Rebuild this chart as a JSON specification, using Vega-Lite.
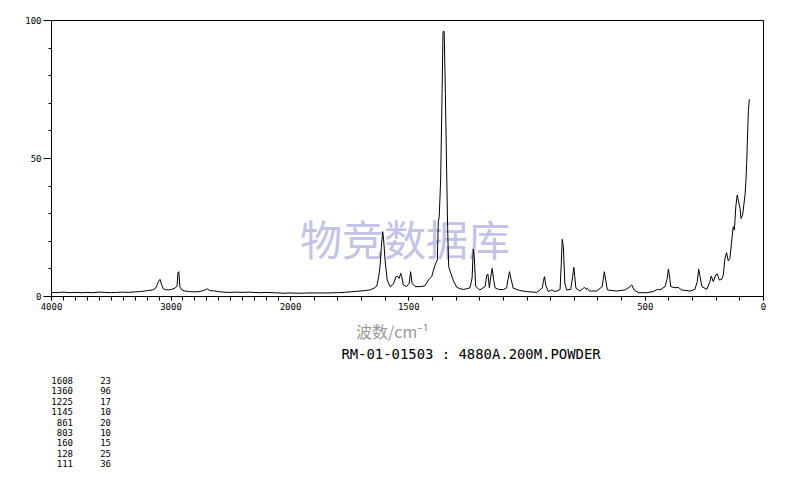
{
  "$schema": "https://vega.github.io/schema/vega-lite/v6.json",
  "padding": {"left": 24, "top": 15, "right": 5, "bottom": 5},
  "background": "white",
  "bounds": "flush",
  "spacing": 85,
  "config": {"view": {"stroke": null}, "font": "DejaVu Sans Mono"},
  "vconcat": [
    {
      "width": 712,
      "height": 276,
      "view": {"stroke": "black", "strokeWidth": 1},
      "title": {
        "text": "RM-01-01503 : 4880A.200M.POWDER",
        "orient": "bottom",
        "anchor": "middle",
        "frame": "group",
        "dx": 64,
        "offset": 8,
        "baseline": "top",
        "font": "DejaVu Sans Mono",
        "fontSize": 13.9,
        "fontWeight": "normal",
        "color": "#000000"
      },
      "resolve": {"axis": {"x": "independent", "y": "independent"}},
      "layer": [
        {
          "data": {"values": [{}]},
          "mark": {"type": "text", "text": "物竞数据库", "font": "Noto Sans CJK SC", "fontSize": 42, "color": "#c3c3ea", "baseline": "middle", "align": "center"},
          "encoding": {
            "x": {"datum": 1514, "type": "quantitative",
              "axis": {"orient": "bottom", "values": [4000,3900,3800,3700,3600,3500,3400,3300,3200,3100,3000,2900,2800,2700,2600,2500,2400,2300,2200,2100,2000,1900,1800,1700,1600,1500,1400,1300,1200,1100,1000,900,800,700,600,500,400,300,200,100,0],
                "labels": false, "domain": false, "grid": false, "tickSize": 4, "tickColor": "#000000", "title": null}},
            "y": {"datum": 19.2, "type": "quantitative",
              "axis": {"orient": "left", "values": [0,10,20,30,40,50,60,70,80,90,100],
                "labels": false, "domain": false, "grid": false, "tickSize": 3, "tickColor": "#000000", "title": null}}
          }
        },
        {
          "data": {"values": [
            {"wn":4000,"i":1.3},{"wn":3950,"i":1.2},{"wn":3900,"i":1.4},{"wn":3850,"i":1.2},{"wn":3800,"i":1.3},{"wn":3750,"i":1.2},{"wn":3700,"i":1.3},{"wn":3650,"i":1.2},{"wn":3600,"i":1.4},{"wn":3550,"i":1.3},{"wn":3500,"i":1.2},{"wn":3450,"i":1.3},{"wn":3400,"i":1.4},{"wn":3350,"i":1.3},{"wn":3300,"i":1.5},{"wn":3250,"i":1.6},{"wn":3200,"i":1.9},{"wn":3150,"i":2.2},{"wn":3125,"i":2.8},{"wn":3110,"i":4.2},{"wn":3100,"i":5.3},{"wn":3088,"i":6.0},{"wn":3076,"i":4.3},{"wn":3060,"i":2.6},{"wn":3040,"i":2.3},{"wn":3018,"i":2.2},{"wn":2990,"i":2.4},{"wn":2960,"i":2.9},{"wn":2945,"i":3.6},{"wn":2938,"i":8.4},{"wn":2930,"i":8.8},{"wn":2922,"i":3.3},{"wn":2905,"i":2.2},{"wn":2880,"i":1.8},{"wn":2840,"i":1.6},{"wn":2800,"i":1.5},{"wn":2760,"i":1.6},{"wn":2730,"i":1.9},{"wn":2711,"i":2.2},{"wn":2690,"i":2.6},{"wn":2670,"i":1.9},{"wn":2640,"i":1.9},{"wn":2600,"i":1.6},{"wn":2560,"i":1.4},{"wn":2500,"i":1.3},{"wn":2450,"i":1.4},{"wn":2400,"i":1.3},{"wn":2350,"i":1.4},{"wn":2300,"i":1.3},{"wn":2250,"i":1.2},{"wn":2200,"i":1.3},{"wn":2150,"i":1.2},{"wn":2100,"i":1.1},{"wn":2050,"i":1.0},{"wn":2000,"i":1.1},{"wn":1960,"i":1.0},{"wn":1920,"i":1.1},{"wn":1880,"i":1.1},{"wn":1840,"i":1.1},{"wn":1800,"i":1.2},{"wn":1770,"i":1.3},{"wn":1746,"i":1.5},{"wn":1720,"i":1.7},{"wn":1700,"i":1.8},{"wn":1680,"i":2.0},{"wn":1662,"i":2.2},{"wn":1645,"i":2.8},{"wn":1633,"i":3.6},{"wn":1625,"i":7.0},{"wn":1619,"i":11.0},{"wn":1614,"i":17.5},{"wn":1608,"i":23.3},{"wn":1604,"i":20.3},{"wn":1598,"i":13.0},{"wn":1589,"i":5.8},{"wn":1577,"i":3.4},{"wn":1563,"i":4.3},{"wn":1552,"i":7.0},{"wn":1545,"i":7.2},{"wn":1538,"i":6.4},{"wn":1532,"i":8.2},{"wn":1528,"i":7.2},{"wn":1521,"i":4.0},{"wn":1507,"i":3.4},{"wn":1496,"i":4.6},{"wn":1490,"i":8.8},{"wn":1484,"i":4.6},{"wn":1471,"i":3.4},{"wn":1450,"i":3.4},{"wn":1429,"i":3.7},{"wn":1415,"i":5.8},{"wn":1401,"i":7.0},{"wn":1387,"i":11.2},{"wn":1377,"i":13.0},{"wn":1373,"i":26.9},{"wn":1369,"i":28.7},{"wn":1363,"i":42.0},{"wn":1357,"i":73.4},{"wn":1353,"i":95.8},{"wn":1348,"i":95.8},{"wn":1343,"i":73.4},{"wn":1337,"i":42.0},{"wn":1333,"i":22.7},{"wn":1329,"i":10.6},{"wn":1320,"i":8.2},{"wn":1309,"i":5.5},{"wn":1295,"i":3.2},{"wn":1281,"i":2.6},{"wn":1267,"i":2.4},{"wn":1253,"i":2.6},{"wn":1239,"i":3.0},{"wn":1230,"i":6.5},{"wn":1225,"i":17.0},{"wn":1221,"i":14.5},{"wn":1215,"i":3.6},{"wn":1204,"i":2.6},{"wn":1197,"i":2.2},{"wn":1183,"i":3.0},{"wn":1175,"i":3.4},{"wn":1168,"i":7.6},{"wn":1163,"i":7.9},{"wn":1157,"i":3.0},{"wn":1151,"i":7.0},{"wn":1145,"i":10.0},{"wn":1139,"i":6.0},{"wn":1133,"i":3.0},{"wn":1119,"i":2.4},{"wn":1098,"i":2.3},{"wn":1084,"i":3.0},{"wn":1078,"i":6.0},{"wn":1072,"i":8.8},{"wn":1065,"i":6.0},{"wn":1056,"i":2.8},{"wn":1028,"i":2.0},{"wn":1000,"i":1.6},{"wn":985,"i":1.5},{"wn":957,"i":1.3},{"wn":943,"i":2.2},{"wn":933,"i":3.0},{"wn":929,"i":5.2},{"wn":924,"i":7.0},{"wn":918,"i":3.8},{"wn":908,"i":1.6},{"wn":893,"i":2.2},{"wn":879,"i":1.6},{"wn":866,"i":2.0},{"wn":858,"i":2.4},{"wn":853,"i":11.8},{"wn":849,"i":20.5},{"wn":844,"i":17.9},{"wn":838,"i":4.6},{"wn":830,"i":2.2},{"wn":813,"i":2.4},{"wn":805,"i":7.0},{"wn":800,"i":10.4},{"wn":796,"i":7.0},{"wn":791,"i":2.8},{"wn":774,"i":1.8},{"wn":760,"i":2.8},{"wn":754,"i":3.1},{"wn":748,"i":2.4},{"wn":743,"i":2.8},{"wn":734,"i":1.8},{"wn":703,"i":1.8},{"wn":680,"i":3.4},{"wn":671,"i":8.8},{"wn":665,"i":5.8},{"wn":658,"i":2.2},{"wn":619,"i":1.8},{"wn":583,"i":2.2},{"wn":567,"i":3.1},{"wn":555,"i":4.0},{"wn":545,"i":2.2},{"wn":527,"i":1.2},{"wn":492,"i":1.2},{"wn":464,"i":1.6},{"wn":447,"i":2.4},{"wn":436,"i":2.2},{"wn":414,"i":3.4},{"wn":405,"i":6.4},{"wn":400,"i":9.7},{"wn":396,"i":7.6},{"wn":390,"i":3.4},{"wn":372,"i":3.0},{"wn":358,"i":3.1},{"wn":344,"i":2.2},{"wn":309,"i":1.8},{"wn":288,"i":2.4},{"wn":278,"i":5.2},{"wn":272,"i":9.7},{"wn":266,"i":7.0},{"wn":258,"i":3.4},{"wn":238,"i":2.4},{"wn":224,"i":5.2},{"wn":219,"i":7.2},{"wn":210,"i":5.2},{"wn":200,"i":7.6},{"wn":193,"i":8.0},{"wn":185,"i":5.8},{"wn":175,"i":6.0},{"wn":168,"i":7.6},{"wn":161,"i":13.6},{"wn":154,"i":15.7},{"wn":147,"i":12.7},{"wn":140,"i":13.6},{"wn":132,"i":20.3},{"wn":126,"i":25.1},{"wn":121,"i":23.9},{"wn":115,"i":32.4},{"wn":109,"i":36.6},{"wn":104,"i":34.5},{"wn":97,"i":31.8},{"wn":93,"i":28.1},{"wn":86,"i":29.4},{"wn":76,"i":36.6},{"wn":72,"i":42.0},{"wn":69,"i":48.1},{"wn":66,"i":56.5},{"wn":62,"i":66.8},{"wn":58,"i":71.3}
          ]},
          "mark": {"type": "line", "color": "#000000", "strokeWidth": 1},
          "encoding": {
            "x": {
              "field": "wn", "type": "quantitative",
              "scale": {"domain": [4000, 2000, 0], "range": [0, 239, 712], "nice": false, "zero": false},
              "axis": {
                "orient": "bottom",
                "values": [4000, 3000, 2000, 1500, 500, 0],
                "format": "d",
                "grid": false,
                "domain": true, "domainColor": "#000000",
                "ticks": true, "tickSize": 4, "tickColor": "#000000",
                "labelFont": "DejaVu Sans Mono", "labelFontSize": 9, "labelColor": "#000000", "labelPadding": 2,
                "labelOverlap": false, "labelFlush": false,
                "title": "波数/cm⁻¹",
                "titleFont": "Noto Sans CJK SC", "titleFontSize": 16, "titleFontWeight": "normal", "titleColor": "#999999",
                "titleX": 341, "titleY": 36, "titleBaseline": "middle", "titleAlign": "center"
              }
            },
            "y": {
              "field": "i", "type": "quantitative",
              "scale": {"domain": [0, 100], "nice": false, "zero": true},
              "axis": {
                "orient": "left",
                "values": [0, 50, 100],
                "format": "d",
                "grid": false,
                "domain": true, "domainColor": "#000000",
                "tickColor": "#000000", "tickSize": 8,
                "labelFont": "DejaVu Sans Mono", "labelFontSize": 9, "labelColor": "#000000", "labelPadding": 2,
                "labelOverlap": false, "labelFlush": false,
                "title": null
              }
            }
          }
        }
      ]
    },
    {
      "width": 60,
      "height": 83,
      "data": {"values": [
        {"row": 1, "wavenumber": 1608, "intensity": 23},
        {"row": 2, "wavenumber": 1360, "intensity": 96},
        {"row": 3, "wavenumber": 1225, "intensity": 17},
        {"row": 4, "wavenumber": 1145, "intensity": 10},
        {"row": 5, "wavenumber": 861, "intensity": 20},
        {"row": 6, "wavenumber": 803, "intensity": 10},
        {"row": 7, "wavenumber": 160, "intensity": 15},
        {"row": 8, "wavenumber": 128, "intensity": 25},
        {"row": 9, "wavenumber": 111, "intensity": 36}
      ]},
      "transform": [{"fold": ["wavenumber", "intensity"], "as": ["col", "v"]}],
      "mark": {"type": "text", "align": "right", "baseline": "middle", "font": "DejaVu Sans Mono", "fontSize": 9, "color": "#000000"},
      "encoding": {
        "x": {"field": "col", "type": "nominal", "scale": {"type": "point", "domain": ["wavenumber", "intensity"], "range": [22, 60], "padding": 0}, "axis": null},
        "y": {"field": "row", "type": "quantitative", "scale": {"domain": [1, 9], "reverse": true, "nice": false, "zero": false}, "axis": null},
        "text": {"field": "v", "type": "quantitative", "format": "d"}
      }
    }
  ]
}
